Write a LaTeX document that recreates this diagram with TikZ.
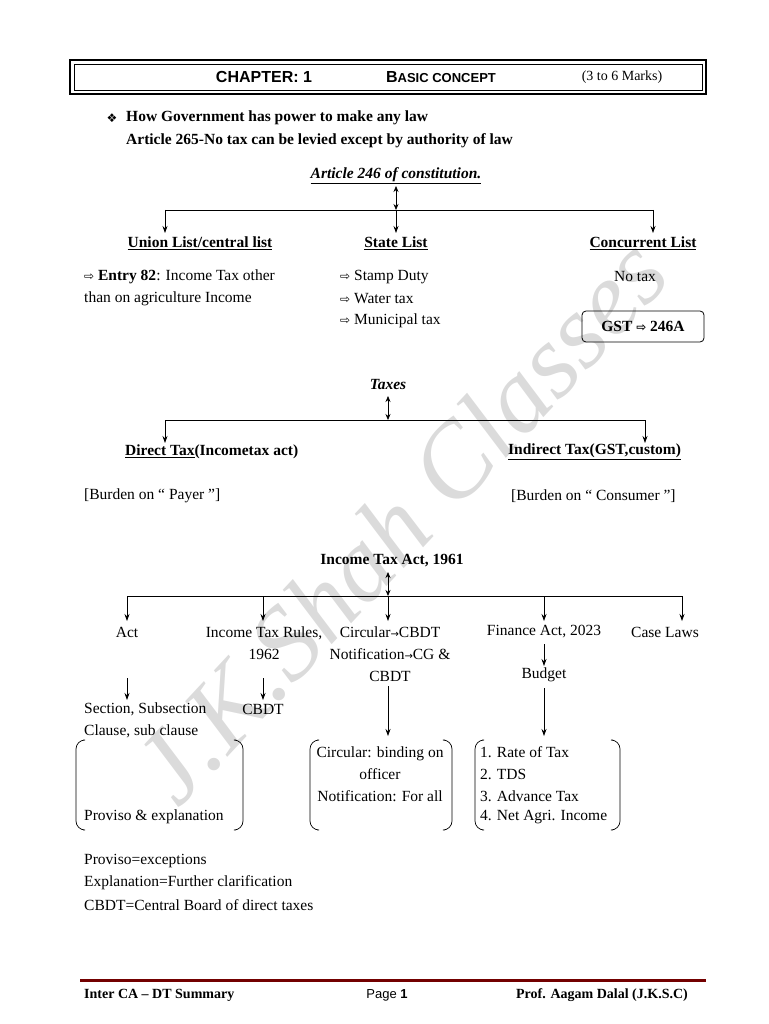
\documentclass[tikz,border=0pt]{standalone}
\usepackage{fontspec}
\setmainfont{Liberation Serif}
\newfontfamily\hsans{Liberation Sans}
\newfontfamily\dsym{DejaVu Sans}
\usetikzlibrary{arrows.meta}
\newcommand{\rarr}{{\dsym\fontsize{12}{14}\selectfont\char"21E8}}
\begin{document}
\begin{tikzpicture}[x=1pt,y=-1pt,
  txt/.style={font=\fontsize{15.5}{22}\selectfont,inner sep=0pt},
  ltxt/.style={txt,anchor=west},
  bt/.style={font=\bfseries\fontsize{15.5}{18}\selectfont},
  arr/.style={-{Stealth[length=7pt,width=5pt]},line width=0.7pt},
  darr/.style={{Stealth[length=6pt,width=5pt]}-{Stealth[length=6pt,width=5pt]},line width=0.7pt},
  ln/.style={line width=0.7pt},
  brk/.style={line width=0.7pt,rounded corners=9pt}]
\useasboundingbox (0,0) rectangle (768,1024);
% watermark
\node[rotate=47,text=gray!28,font=\fontsize{105}{105}\selectfont\itshape] (wm) at (400,520) {J.K.Shah Classes};
% header
\draw[line width=2.2pt] (70,60) rectangle (706,94);
\draw[line width=0.5pt] (74,64) rectangle (702,90);
\node[inner sep=0,font=\hsans\bfseries\fontsize{16}{18}\selectfont] (ch) at (264,77) {CHAPTER: 1};
\node[inner sep=0,font=\hsans\bfseries\fontsize{16}{18}\selectfont] (bc) at (441,77) {B{\fontsize{13}{15}\selectfont ASIC CONCEPT}};
\node[txt,font=\fontsize{14}{16}\selectfont] (mk) at (622,77) {(3 to 6 Marks)};
% intro
\node[txt,font=\dsym\fontsize{12}{14}\selectfont] (bul) at (112,118) {\char"2756};
\node[ltxt,bt] (i1) at (126,118) {How Government has power to make any law};
\node[ltxt,bt] (i2) at (126,141) {Article 265-No tax can be levied except by authority of law};
% article 246
\node[txt,font=\bfseries\itshape\fontsize{15.5}{18}\selectfont] (a246) at (396,176) {\underline{Article 246 of constitution.}};
\draw[darr] (396,186) -- (396,210);
\draw[ln] (165,210) -- (653,210);
\node[txt,bt] (ul) at (200,243) {\underline{Union List/central list}};
\node[txt,bt] (sl) at (396,243) {\underline{State List}};
\node[txt,bt] (cl) at (643,243) {\underline{Concurrent List}};
\draw[arr] (165,210) -- (165,233);
\draw[arr] (396,210) -- (396,233);
\draw[arr] (653,210) -- (653,233);
\node[ltxt] (e1) at (84,277) {\rarr\ \textbf{Entry 82}: Income Tax other};
\node[ltxt] (e2) at (84,299) {than on agriculture Income};
\node[ltxt] (s1) at (340,277) {\rarr\ Stamp Duty};
\node[ltxt] (s2) at (340,299) {\rarr\ Water tax};
\node[ltxt] (s3) at (340,321) {\rarr\ Municipal tax};
\node[txt] (nt) at (635,277) {No tax};
\node[draw,line width=0.8pt,rounded corners=4pt,minimum width=122pt,minimum height=31pt,bt] (gst) at (643,326.5) {GST \rarr\ 246A};
% taxes
\node[txt,font=\bfseries\itshape\fontsize{15.5}{18}\selectfont] (tx) at (388,385) {Taxes};
\draw[darr] (388,396) -- (388,420);
\draw[ln] (165,420) -- (645,420);
\draw[arr] (165,420) -- (165,443);
\draw[arr] (645,420) -- (645,443);
\node[ltxt,bt] (dt) at (125,452) {\underline{Direct Tax}(Incometax act)};
\node[ltxt,bt] (it) at (508,452) {\underline{Indirect Tax(GST,custom)}};
\node[ltxt] (b1) at (84,496) {[Burden on `` Payer '']};
\node[ltxt] (b2) at (511,496) {[Burden on `` Consumer '']};
% income tax act
\node[txt,bt] (ita) at (392,561) {Income Tax Act, 1961};
\draw[darr] (388,572) -- (388,596);
\draw[ln] (127,596) -- (682,596);
\foreach \x in {127,263,388,544,682} \draw[arr] (\x,596) -- (\x,621);
\node[txt] (act) at (127,632) {Act};
\node[txt,align=center] (itr) at (264,643) {Income Tax Rules,\\1962};
\node[txt,align=center] (circ) at (390,654) {Circular{\dsym\fontsize{10}{12}\selectfont\char"2192}CBDT\\Notification{\dsym\fontsize{10}{12}\selectfont\char"2192}CG \&\\CBDT};
\node[txt] (fa) at (544,632) {Finance Act, 2023};
\node[txt] (clw) at (665,632) {Case Laws};
\node[txt] (bud) at (544,675) {Budget};
\draw[arr] (544,644) -- (544,666);
\draw[arr] (127,678) -- (127,700);
\draw[arr] (263,678) -- (263,700);
\node[ltxt] (sec1) at (84,709) {Section, Subsection};
\node[ltxt] (sec2) at (84,731) {Clause, sub clause};
\node[txt] (cb) at (263,709) {CBDT};
\draw[arr] (388,686) -- (388,736);
\draw[arr] (544,688) -- (544,736);
% bracket boxes
\foreach \l/\r in {76/243,310/452,475/620}{
  \draw[brk] (\l+7,740) -- (\l,740) -- (\l,830) -- (\l+7,830);
  \draw[brk] (\r-7,740) -- (\r,740) -- (\r,830) -- (\r-7,830);
}
\node[ltxt] (pe) at (84,817) {Proviso \& explanation};
\node[txt,align=center] (cbo) at (380,774) {Circular: binding on\\officer\\Notification: For all};
\node[ltxt] (r1) at (480,752) {1. Rate of Tax};
\node[ltxt] (r2) at (480,774) {2. TDS};
\node[ltxt] (r3) at (480,796) {3. Advance Tax};
\node[ltxt] (r4) at (480,817) {4. Net Agri. Income};
% notes
\node[ltxt] (n1) at (84,861) {Proviso=exceptions};
\node[ltxt] (n2) at (84,883) {Explanation=Further clarification};
\node[ltxt] (n3) at (84,905) {CBDT=Central Board of direct taxes};
% footer
\draw[line width=3pt,color=red!45!black] (80,980) -- (706,980);
\node[ltxt,font=\bfseries\fontsize{14}{16}\selectfont] (f1) at (84,995) {Inter CA -- DT Summary};
\node[txt,font=\hsans\fontsize{13}{15}\selectfont] (f2) at (387,995) {Page \textbf{1}};
\node[txt,anchor=east,font=\bfseries\fontsize{14}{16}\selectfont] (f3) at (688,995) {Prof. Aagam Dalal (J.K.S.C)};
\end{tikzpicture}
\end{document}
